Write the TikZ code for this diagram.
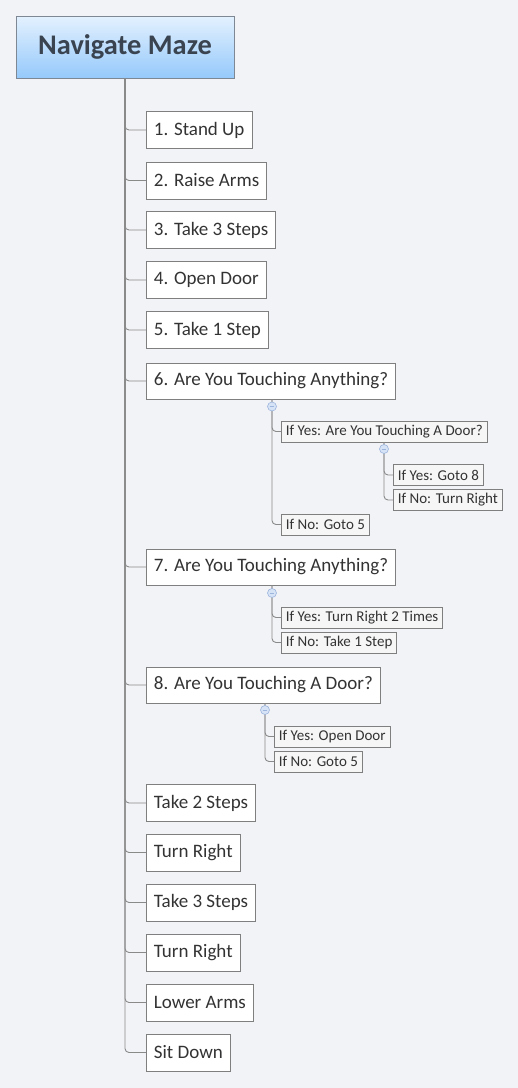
\documentclass[tikz,border=0pt]{standalone}
\usepackage{fontspec}
\setmainfont{Carlito}
\definecolor{bg}{HTML}{F2F3F7}
\definecolor{bordr}{HTML}{7F7F7F}
\definecolor{linec}{HTML}{8A8A8A}
\definecolor{txt}{HTML}{333333}
\definecolor{roottxt}{HTML}{3A4350}
\definecolor{roottop}{HTML}{E4F1FE}
\definecolor{rootbot}{HTML}{95C9FB}
\definecolor{rootbd}{HTML}{7D8894}
\definecolor{subfill}{HTML}{F6F6F6}
\definecolor{mfill}{HTML}{D6E3F6}
\definecolor{mdraw}{HTML}{9DB4DC}
\tikzset{
  rootbox/.style={draw=rootbd, line width=0.8pt, top color=roottop, bottom color=rootbot,
    minimum width=218, minimum height=62, inner sep=0pt, text=roottxt,
    font=\fontsize{28.4}{32}\selectfont\bfseries},
  lone/.style={draw=bordr, line width=0.8pt, fill=white, anchor=west, minimum height=37,
    inner xsep=7.5pt, inner ysep=0pt, text=txt, font=\fontsize{19}{22}\selectfont},
  ltwo/.style={draw=bordr, line width=0.8pt, fill=subfill, anchor=west, minimum height=21,
    inner xsep=4.5pt, inner ysep=0pt, text=txt, font=\fontsize{15}{17}\selectfont},
  conn/.style={draw=linec, line width=0.9pt, rounded corners=4pt},
  minus/.style={circle, draw=mdraw, fill=mfill, line width=0.6pt, minimum size=9pt, inner sep=0pt,
    path picture={\draw[mdraw, line width=0.8pt] ([xshift=-2.3pt]path picture bounding box.center) -- ([xshift=2.3pt]path picture bounding box.center);}}
}
\begin{document}
\begin{tikzpicture}[x=1pt, y=-1pt]
\fill[bg] (0,0) rectangle (518,1088);
\useasboundingbox (0,0) rectangle (518,1088);

\node[rootbox] (root) at (125,47) {Navigate Maze};

\node[lone] (c1) at (146,130) {1. Stand Up};
\node[lone] (c2) at (146,180.5) {2. Raise Arms};
\node[lone] (c3) at (146,230) {3. Take 3 Steps};
\node[lone] (c4) at (146,280) {4. Open Door};
\node[lone] (c5) at (146,330) {5. Take 1 Step};
\node[lone, minimum height=36] (c6) at (146,381) {6. Are You Touching Anything?};
\node[lone, minimum height=36] (c7) at (146,567) {7. Are You Touching Anything?};
\node[lone, minimum height=36] (c8) at (146,685) {8. Are You Touching A Door?};
\node[lone] (c9) at (146,803) {Take 2 Steps};
\node[lone] (c10) at (146,852.5) {Turn Right};
\node[lone] (c11) at (146,902.5) {Take 3 Steps};
\node[lone] (c12) at (146,952.5) {Turn Right};
\node[lone] (c13) at (146,1002.5) {Lower Arms};
\node[lone] (c14) at (146,1052.5) {Sit Down};

\foreach \c in {c1,c2,c3,c4,c5,c6,c7,c8,c9,c10,c11,c12,c13,c14}
  \draw[conn] (root.south) |- (\c.west);

% children of 6
\node[ltwo] (y6) at (281,431.5) {If Yes: Are You Touching A Door?};
\node[ltwo] (y6y) at (393,475) {If Yes: Goto 8};
\node[ltwo] (y6n) at (393,500) {If No: Turn Right};
\node[ltwo] (n6) at (281,524.5) {If No: Goto 5};
% children of 7
\node[ltwo] (y7) at (281,617.5) {If Yes: Turn Right 2 Times};
\node[ltwo] (n7) at (281,642.5) {If No: Take 1 Step};
% children of 8
\node[ltwo] (y8) at (274,736.5) {If Yes: Open Door};
\node[ltwo] (n8) at (274,761.5) {If No: Goto 5};

\coordinate (t6) at (272,399);
\coordinate (t6b) at (384,442);
\coordinate (t7) at (272,585);
\coordinate (t8) at (265,703);

\draw[conn] (t6) |- (y6.west);
\draw[conn] (t6) |- (n6.west);
\draw[conn] (t6b) |- (y6y.west);
\draw[conn] (t6b) |- (y6n.west);
\draw[conn] (t7) |- (y7.west);
\draw[conn] (t7) |- (n7.west);
\draw[conn] (t8) |- (y8.west);
\draw[conn] (t8) |- (n8.west);

\node[minus] (m6) at (272,406.5) {};
\node[minus] (m6b) at (384,449) {};
\node[minus] (m7) at (272,593) {};
\node[minus] (m8) at (265,710) {};
\end{tikzpicture}
\end{document}
